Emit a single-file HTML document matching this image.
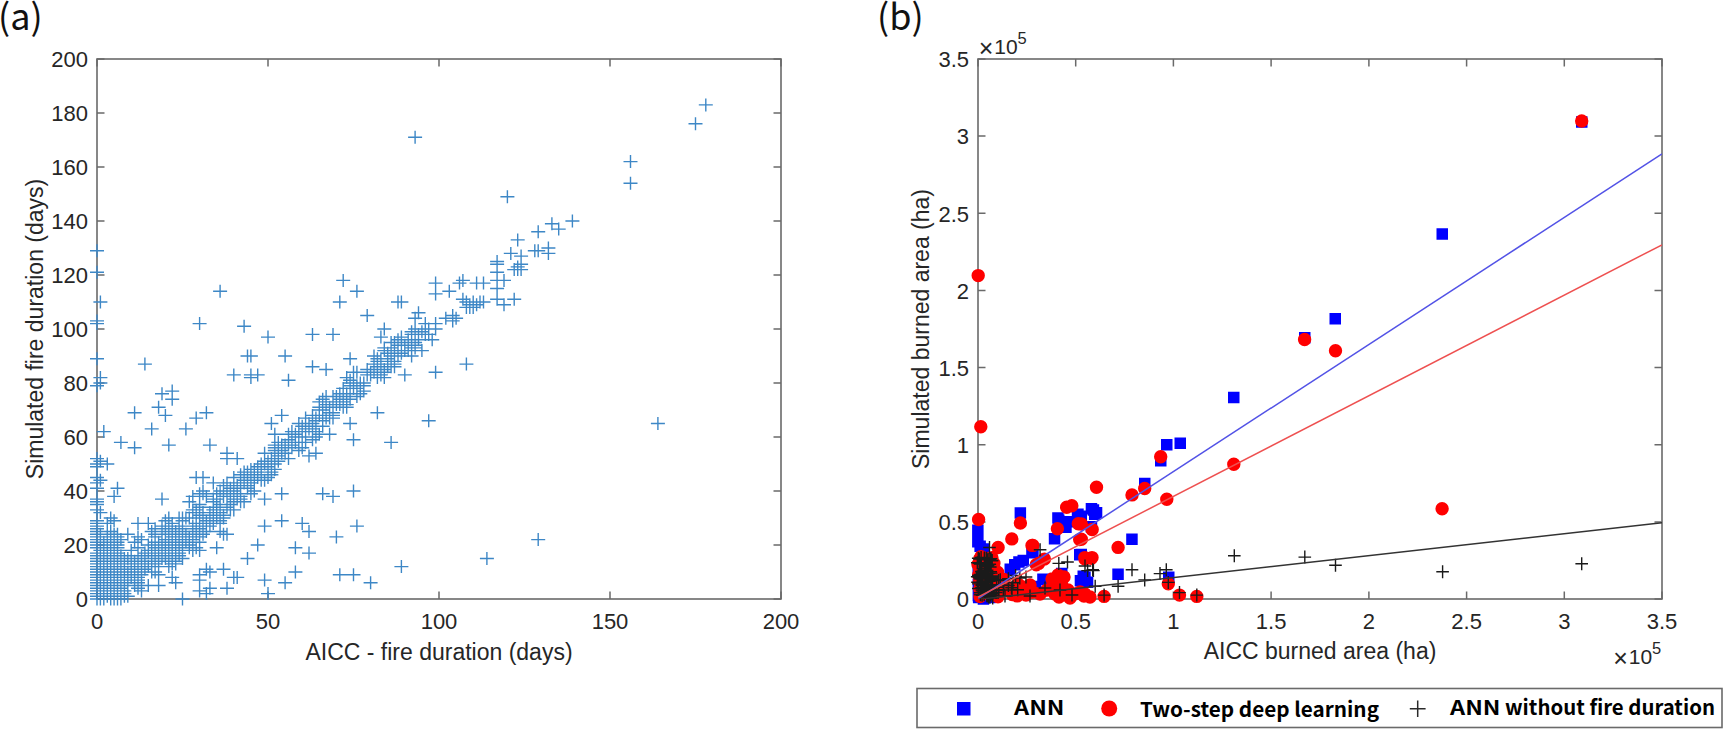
<!DOCTYPE html><html><head><meta charset="utf-8"><style>html,body{margin:0;padding:0;background:#fff}svg{display:block}text{font-family:"Liberation Sans",Arial,sans-serif;fill:#262626}</style></head><body>
<svg width="1725" height="729" viewBox="0 0 1725 729">
<rect width="1725" height="729" fill="#fff"/>
<text x="-2" y="30" style="font-family:'Noto Sans CJK KR','Liberation Sans',sans-serif;font-size:36px;fill:#111">(a)</text>
<text x="877" y="30" style="font-family:'Noto Sans CJK KR','Liberation Sans',sans-serif;font-size:36px;fill:#111">(b)</text>
<path d="M97 599v-7.5M97 59v7.5M268 599v-7.5M268 59v7.5M439 599v-7.5M439 59v7.5M610 599v-7.5M610 59v7.5M781 599v-7.5M781 59v7.5M97 599h7.5M781 599h-7.5M97 545h7.5M781 545h-7.5M97 491h7.5M781 491h-7.5M97 437h7.5M781 437h-7.5M97 383h7.5M781 383h-7.5M97 329h7.5M781 329h-7.5M97 275h7.5M781 275h-7.5M97 221h7.5M781 221h-7.5M97 167h7.5M781 167h-7.5M97 113h7.5M781 113h-7.5M97 59h7.5M781 59h-7.5" stroke="#6a6a6a" stroke-width="1.5" fill="none"/><rect x="97" y="59" width="684" height="540" fill="none" stroke="#6a6a6a" stroke-width="1.6"/>
<path d="M90 599h14M97 592.5v13M90 596.3h14M97 589.8v13M90 593.6h14M97 587.1v13M90 590.9h14M97 584.4v13M90 588.2h14M97 581.7v13M90 585.5h14M97 579v13M90 582.8h14M97 576.3v13M90 580.1h14M97 573.6v13M90 577.4h14M97 570.9v13M90 574.7h14M97 568.2v13M90 572h14M97 565.5v13M90 569.3h14M97 562.8v13M90 566.6h14M97 560.1v13M90 563.9h14M97 557.4v13M90 561.2h14M97 554.7v13M90 558.5h14M97 552v13M90 555.8h14M97 549.3v13M90 553.1h14M97 546.6v13M90 547.7h14M97 541.2v13M90 545h14M97 538.5v13M90 542.3h14M97 535.8v13M90 539.6h14M97 533.1v13M90 536.9h14M97 530.4v13M90 534.2h14M97 527.7v13M90 531.5h14M97 525v13M90 528.8h14M97 522.3v13M90 526.1h14M97 519.6v13M90 523.4h14M97 516.9v13M90 520.7h14M97 514.2v13M90 509.9h14M97 503.4v13M90 504.5h14M97 498v13M90 501.8h14M97 495.3v13M90 499.1h14M97 492.6v13M90 488.3h14M97 481.8v13M90 482.9h14M97 476.4v13M90 477.5h14M97 471v13M90 466.7h14M97 460.2v13M90 464h14M97 457.5v13M90 458.6h14M97 452.1v13M90 385.7h14M97 379.2v13M90 358.7h14M97 352.2v13M90 323.6h14M97 317.1v13M90 320.9h14M97 314.4v13M90 272.3h14M97 265.8v13M90 250.7h14M97 244.2v13M93.4 599h14M100.4 592.5v13M93.4 596.3h14M100.4 589.8v13M93.4 590.9h14M100.4 584.4v13M93.4 588.2h14M100.4 581.7v13M93.4 585.5h14M100.4 579v13M93.4 582.8h14M100.4 576.3v13M93.4 580.1h14M100.4 573.6v13M93.4 577.4h14M100.4 570.9v13M93.4 574.7h14M100.4 568.2v13M93.4 572h14M100.4 565.5v13M93.4 566.6h14M100.4 560.1v13M93.4 563.9h14M100.4 557.4v13M93.4 561.2h14M100.4 554.7v13M93.4 550.4h14M100.4 543.9v13M93.4 547.7h14M100.4 541.2v13M93.4 545h14M100.4 538.5v13M93.4 542.3h14M100.4 535.8v13M93.4 539.6h14M100.4 533.1v13M93.4 534.2h14M100.4 527.7v13M93.4 512.6h14M100.4 506.1v13M93.4 480.2h14M100.4 473.7v13M93.4 461.3h14M100.4 454.8v13M93.4 383h14M100.4 376.5v13M93.4 377.6h14M100.4 371.1v13M93.4 302h14M100.4 295.5v13M96.8 599h14M103.8 592.5v13M96.8 593.6h14M103.8 587.1v13M96.8 590.9h14M103.8 584.4v13M96.8 588.2h14M103.8 581.7v13M96.8 582.8h14M103.8 576.3v13M96.8 580.1h14M103.8 573.6v13M96.8 577.4h14M103.8 570.9v13M96.8 574.7h14M103.8 568.2v13M96.8 572h14M103.8 565.5v13M96.8 569.3h14M103.8 562.8v13M96.8 566.6h14M103.8 560.1v13M96.8 558.5h14M103.8 552v13M96.8 555.8h14M103.8 549.3v13M96.8 553.1h14M103.8 546.6v13M96.8 550.4h14M103.8 543.9v13M96.8 547.7h14M103.8 541.2v13M96.8 542.3h14M103.8 535.8v13M96.8 431.6h14M103.8 425.1v13M100.3 596.3h14M107.3 589.8v13M100.3 593.6h14M107.3 587.1v13M100.3 590.9h14M107.3 584.4v13M100.3 588.2h14M107.3 581.7v13M100.3 585.5h14M107.3 579v13M100.3 582.8h14M107.3 576.3v13M100.3 580.1h14M107.3 573.6v13M100.3 577.4h14M107.3 570.9v13M100.3 574.7h14M107.3 568.2v13M100.3 572h14M107.3 565.5v13M100.3 569.3h14M107.3 562.8v13M100.3 563.9h14M107.3 557.4v13M100.3 561.2h14M107.3 554.7v13M100.3 558.5h14M107.3 552v13M100.3 553.1h14M107.3 546.6v13M100.3 547.7h14M107.3 541.2v13M100.3 542.3h14M107.3 535.8v13M100.3 536.9h14M107.3 530.4v13M100.3 534.2h14M107.3 527.7v13M100.3 523.4h14M107.3 516.9v13M100.3 464h14M107.3 457.5v13M103.7 599h14M110.7 592.5v13M103.7 596.3h14M110.7 589.8v13M103.7 593.6h14M110.7 587.1v13M103.7 590.9h14M110.7 584.4v13M103.7 588.2h14M110.7 581.7v13M103.7 585.5h14M110.7 579v13M103.7 582.8h14M110.7 576.3v13M103.7 580.1h14M110.7 573.6v13M103.7 574.7h14M110.7 568.2v13M103.7 572h14M110.7 565.5v13M103.7 569.3h14M110.7 562.8v13M103.7 566.6h14M110.7 560.1v13M103.7 563.9h14M110.7 557.4v13M103.7 553.1h14M110.7 546.6v13M103.7 545h14M110.7 538.5v13M103.7 542.3h14M110.7 535.8v13M103.7 539.6h14M110.7 533.1v13M103.7 536.9h14M110.7 530.4v13M103.7 534.2h14M110.7 527.7v13M103.7 531.5h14M110.7 525v13M103.7 518h14M110.7 511.5v13M107.1 599h14M114.1 592.5v13M107.1 596.3h14M114.1 589.8v13M107.1 590.9h14M114.1 584.4v13M107.1 585.5h14M114.1 579v13M107.1 582.8h14M114.1 576.3v13M107.1 577.4h14M114.1 570.9v13M107.1 574.7h14M114.1 568.2v13M107.1 572h14M114.1 565.5v13M107.1 569.3h14M114.1 562.8v13M107.1 563.9h14M114.1 557.4v13M107.1 561.2h14M114.1 554.7v13M107.1 555.8h14M114.1 549.3v13M107.1 553.1h14M114.1 546.6v13M107.1 550.4h14M114.1 543.9v13M107.1 547.7h14M114.1 541.2v13M107.1 542.3h14M114.1 535.8v13M107.1 536.9h14M114.1 530.4v13M107.1 534.2h14M114.1 527.7v13M107.1 520.7h14M114.1 514.2v13M107.1 496.4h14M114.1 489.9v13M110.5 599h14M117.5 592.5v13M110.5 596.3h14M117.5 589.8v13M110.5 593.6h14M117.5 587.1v13M110.5 590.9h14M117.5 584.4v13M110.5 588.2h14M117.5 581.7v13M110.5 585.5h14M117.5 579v13M110.5 582.8h14M117.5 576.3v13M110.5 580.1h14M117.5 573.6v13M110.5 577.4h14M117.5 570.9v13M110.5 574.7h14M117.5 568.2v13M110.5 572h14M117.5 565.5v13M110.5 569.3h14M117.5 562.8v13M110.5 566.6h14M117.5 560.1v13M110.5 563.9h14M117.5 557.4v13M110.5 561.2h14M117.5 554.7v13M110.5 553.1h14M117.5 546.6v13M110.5 550.4h14M117.5 543.9v13M110.5 547.7h14M117.5 541.2v13M110.5 545h14M117.5 538.5v13M110.5 542.3h14M117.5 535.8v13M110.5 539.6h14M117.5 533.1v13M110.5 536.9h14M117.5 530.4v13M110.5 534.2h14M117.5 527.7v13M110.5 488.3h14M117.5 481.8v13M113.9 599h14M120.9 592.5v13M113.9 596.3h14M120.9 589.8v13M113.9 593.6h14M120.9 587.1v13M113.9 588.2h14M120.9 581.7v13M113.9 582.8h14M120.9 576.3v13M113.9 580.1h14M120.9 573.6v13M113.9 577.4h14M120.9 570.9v13M113.9 574.7h14M120.9 568.2v13M113.9 572h14M120.9 565.5v13M113.9 569.3h14M120.9 562.8v13M113.9 566.6h14M120.9 560.1v13M113.9 563.9h14M120.9 557.4v13M113.9 558.5h14M120.9 552v13M113.9 555.8h14M120.9 549.3v13M113.9 539.6h14M120.9 533.1v13M113.9 442.4h14M120.9 435.9v13M117.4 596.3h14M124.4 589.8v13M117.4 593.6h14M124.4 587.1v13M117.4 590.9h14M124.4 584.4v13M117.4 582.8h14M124.4 576.3v13M117.4 574.7h14M124.4 568.2v13M117.4 572h14M124.4 565.5v13M117.4 569.3h14M124.4 562.8v13M117.4 566.6h14M124.4 560.1v13M117.4 563.9h14M124.4 557.4v13M117.4 558.5h14M124.4 552v13M120.8 596.3h14M127.8 589.8v13M120.8 585.5h14M127.8 579v13M120.8 577.4h14M127.8 570.9v13M120.8 574.7h14M127.8 568.2v13M120.8 572h14M127.8 565.5v13M120.8 558.5h14M127.8 552v13M120.8 534.2h14M127.8 527.7v13M124.2 577.4h14M131.2 570.9v13M124.2 574.7h14M131.2 568.2v13M124.2 572h14M131.2 565.5v13M124.2 569.3h14M131.2 562.8v13M124.2 566.6h14M131.2 560.1v13M124.2 561.2h14M131.2 554.7v13M124.2 558.5h14M131.2 552v13M124.2 555.8h14M131.2 549.3v13M124.2 550.4h14M131.2 543.9v13M127.6 585.5h14M134.6 579v13M127.6 582.8h14M134.6 576.3v13M127.6 580.1h14M134.6 573.6v13M127.6 577.4h14M134.6 570.9v13M127.6 574.7h14M134.6 568.2v13M127.6 569.3h14M134.6 562.8v13M127.6 566.6h14M134.6 560.1v13M127.6 563.9h14M134.6 557.4v13M127.6 561.2h14M134.6 554.7v13M127.6 542.3h14M134.6 535.8v13M127.6 447.8h14M134.6 441.3v13M127.6 412.7h14M134.6 406.2v13M131 588.2h14M138 581.7v13M131 582.8h14M138 576.3v13M131 580.1h14M138 573.6v13M131 577.4h14M138 570.9v13M131 574.7h14M138 568.2v13M131 572h14M138 565.5v13M131 569.3h14M138 562.8v13M131 566.6h14M138 560.1v13M131 563.9h14M138 557.4v13M131 561.2h14M138 554.7v13M131 558.5h14M138 552v13M131 555.8h14M138 549.3v13M131 547.7h14M138 541.2v13M131 536.9h14M138 530.4v13M131 523.4h14M138 516.9v13M134.5 590.9h14M141.5 584.4v13M134.5 585.5h14M141.5 579v13M134.5 574.7h14M141.5 568.2v13M134.5 572h14M141.5 565.5v13M134.5 566.6h14M141.5 560.1v13M134.5 563.9h14M141.5 557.4v13M134.5 561.2h14M141.5 554.7v13M134.5 558.5h14M141.5 552v13M134.5 555.8h14M141.5 549.3v13M134.5 539.6h14M141.5 533.1v13M137.9 569.3h14M144.9 562.8v13M137.9 566.6h14M144.9 560.1v13M137.9 563.9h14M144.9 557.4v13M137.9 561.2h14M144.9 554.7v13M137.9 558.5h14M144.9 552v13M137.9 555.8h14M144.9 549.3v13M137.9 553.1h14M144.9 546.6v13M137.9 364.1h14M144.9 357.6v13M141.3 585.5h14M148.3 579v13M141.3 566.6h14M148.3 560.1v13M141.3 553.1h14M148.3 546.6v13M141.3 550.4h14M148.3 543.9v13M141.3 545h14M148.3 538.5v13M141.3 523.4h14M148.3 516.9v13M144.7 572h14M151.7 565.5v13M144.7 561.2h14M151.7 554.7v13M144.7 558.5h14M151.7 552v13M144.7 555.8h14M151.7 549.3v13M144.7 553.1h14M151.7 546.6v13M144.7 545h14M151.7 538.5v13M144.7 531.5h14M151.7 525v13M144.7 428.9h14M151.7 422.4v13M148.1 572h14M155.1 565.5v13M148.1 563.9h14M155.1 557.4v13M148.1 555.8h14M155.1 549.3v13M148.1 550.4h14M155.1 543.9v13M148.1 547.7h14M155.1 541.2v13M148.1 545h14M155.1 538.5v13M148.1 542.3h14M155.1 535.8v13M148.1 536.9h14M155.1 530.4v13M148.1 534.2h14M155.1 527.7v13M148.1 528.8h14M155.1 522.3v13M151.6 585.5h14M158.6 579v13M151.6 574.7h14M158.6 568.2v13M151.6 566.6h14M158.6 560.1v13M151.6 561.2h14M158.6 554.7v13M151.6 558.5h14M158.6 552v13M151.6 553.1h14M158.6 546.6v13M151.6 542.3h14M158.6 535.8v13M151.6 407.3h14M158.6 400.8v13M155 558.5h14M162 552v13M155 555.8h14M162 549.3v13M155 553.1h14M162 546.6v13M155 550.4h14M162 543.9v13M155 547.7h14M162 541.2v13M155 545h14M162 538.5v13M155 534.2h14M162 527.7v13M155 526.1h14M162 519.6v13M155 499.1h14M162 492.6v13M155 393.8h14M162 387.3v13M158.4 558.5h14M165.4 552v13M158.4 555.8h14M165.4 549.3v13M158.4 553.1h14M165.4 546.6v13M158.4 550.4h14M165.4 543.9v13M158.4 547.7h14M165.4 541.2v13M158.4 545h14M165.4 538.5v13M158.4 539.6h14M165.4 533.1v13M158.4 531.5h14M165.4 525v13M158.4 520.7h14M165.4 514.2v13M158.4 415.4h14M165.4 408.9v13M161.8 566.6h14M168.8 560.1v13M161.8 561.2h14M168.8 554.7v13M161.8 555.8h14M168.8 549.3v13M161.8 553.1h14M168.8 546.6v13M161.8 550.4h14M168.8 543.9v13M161.8 542.3h14M168.8 535.8v13M161.8 539.6h14M168.8 533.1v13M161.8 528.8h14M168.8 522.3v13M161.8 526.1h14M168.8 519.6v13M161.8 518h14M168.8 511.5v13M161.8 445.1h14M168.8 438.6v13M165.2 577.4h14M172.2 570.9v13M165.2 563.9h14M172.2 557.4v13M165.2 558.5h14M172.2 552v13M165.2 553.1h14M172.2 546.6v13M165.2 550.4h14M172.2 543.9v13M165.2 542.3h14M172.2 535.8v13M165.2 539.6h14M172.2 533.1v13M165.2 536.9h14M172.2 530.4v13M165.2 534.2h14M172.2 527.7v13M165.2 531.5h14M172.2 525v13M165.2 528.8h14M172.2 522.3v13M165.2 526.1h14M172.2 519.6v13M165.2 523.4h14M172.2 516.9v13M165.2 399.2h14M172.2 392.7v13M165.2 391.1h14M172.2 384.6v13M168.7 582.8h14M175.7 576.3v13M168.7 563.9h14M175.7 557.4v13M168.7 561.2h14M175.7 554.7v13M168.7 555.8h14M175.7 549.3v13M168.7 547.7h14M175.7 541.2v13M168.7 545h14M175.7 538.5v13M168.7 539.6h14M175.7 533.1v13M168.7 534.2h14M175.7 527.7v13M168.7 531.5h14M175.7 525v13M172.1 555.8h14M179.1 549.3v13M172.1 553.1h14M179.1 546.6v13M172.1 550.4h14M179.1 543.9v13M172.1 545h14M179.1 538.5v13M172.1 542.3h14M179.1 535.8v13M172.1 539.6h14M179.1 533.1v13M172.1 528.8h14M179.1 522.3v13M172.1 526.1h14M179.1 519.6v13M172.1 518h14M179.1 511.5v13M175.5 599h14M182.5 592.5v13M175.5 558.5h14M182.5 552v13M175.5 547.7h14M182.5 541.2v13M175.5 545h14M182.5 538.5v13M175.5 542.3h14M182.5 535.8v13M175.5 539.6h14M182.5 533.1v13M175.5 536.9h14M182.5 530.4v13M175.5 534.2h14M182.5 527.7v13M175.5 531.5h14M182.5 525v13M175.5 528.8h14M182.5 522.3v13M175.5 526.1h14M182.5 519.6v13M175.5 520.7h14M182.5 514.2v13M175.5 518h14M182.5 511.5v13M178.9 542.3h14M185.9 535.8v13M178.9 534.2h14M185.9 527.7v13M178.9 518h14M185.9 511.5v13M178.9 428.9h14M185.9 422.4v13M182.3 547.7h14M189.3 541.2v13M182.3 545h14M189.3 538.5v13M182.3 542.3h14M189.3 535.8v13M182.3 539.6h14M189.3 533.1v13M182.3 536.9h14M189.3 530.4v13M182.3 518h14M189.3 511.5v13M182.3 501.8h14M189.3 495.3v13M185.8 550.4h14M192.8 543.9v13M185.8 547.7h14M192.8 541.2v13M185.8 539.6h14M192.8 533.1v13M185.8 536.9h14M192.8 530.4v13M185.8 531.5h14M192.8 525v13M185.8 528.8h14M192.8 522.3v13M185.8 526.1h14M192.8 519.6v13M185.8 512.6h14M192.8 506.1v13M185.8 509.9h14M192.8 503.4v13M185.8 496.4h14M192.8 489.9v13M189.2 547.7h14M196.2 541.2v13M189.2 534.2h14M196.2 527.7v13M189.2 531.5h14M196.2 525v13M189.2 528.8h14M196.2 522.3v13M189.2 526.1h14M196.2 519.6v13M189.2 523.4h14M196.2 516.9v13M189.2 518h14M196.2 511.5v13M189.2 509.9h14M196.2 503.4v13M189.2 477.5h14M196.2 471v13M189.2 418.1h14M196.2 411.6v13M192.6 590.9h14M199.6 584.4v13M192.6 580.1h14M199.6 573.6v13M192.6 574.7h14M199.6 568.2v13M192.6 550.4h14M199.6 543.9v13M192.6 542.3h14M199.6 535.8v13M192.6 536.9h14M199.6 530.4v13M192.6 534.2h14M199.6 527.7v13M192.6 528.8h14M199.6 522.3v13M192.6 523.4h14M199.6 516.9v13M192.6 515.3h14M199.6 508.8v13M192.6 507.2h14M199.6 500.7v13M192.6 504.5h14M199.6 498v13M192.6 493.7h14M199.6 487.2v13M192.6 323.6h14M199.6 317.1v13M196 534.2h14M203 527.7v13M196 526.1h14M203 519.6v13M196 515.3h14M203 508.8v13M196 512.6h14M203 506.1v13M196 493.7h14M203 487.2v13M196 491h14M203 484.5v13M196 477.5h14M203 471v13M199.4 593.6h14M206.4 587.1v13M199.4 569.3h14M206.4 562.8v13M199.4 531.5h14M206.4 525v13M199.4 526.1h14M206.4 519.6v13M199.4 523.4h14M206.4 516.9v13M199.4 520.7h14M206.4 514.2v13M199.4 496.4h14M206.4 489.9v13M199.4 412.7h14M206.4 406.2v13M202.9 588.2h14M209.9 581.7v13M202.9 572h14M209.9 565.5v13M202.9 526.1h14M209.9 519.6v13M202.9 520.7h14M209.9 514.2v13M202.9 518h14M209.9 511.5v13M202.9 515.3h14M209.9 508.8v13M202.9 512.6h14M209.9 506.1v13M202.9 445.1h14M209.9 438.6v13M206.3 523.4h14M213.3 516.9v13M206.3 515.3h14M213.3 508.8v13M206.3 512.6h14M213.3 506.1v13M206.3 509.9h14M213.3 503.4v13M206.3 507.2h14M213.3 500.7v13M206.3 501.8h14M213.3 495.3v13M206.3 499.1h14M213.3 492.6v13M206.3 482.9h14M213.3 476.4v13M209.7 547.7h14M216.7 541.2v13M209.7 518h14M216.7 511.5v13M209.7 515.3h14M216.7 508.8v13M209.7 509.9h14M216.7 503.4v13M209.7 507.2h14M216.7 500.7v13M209.7 499.1h14M216.7 492.6v13M209.7 493.7h14M216.7 487.2v13M213.1 531.5h14M220.1 525v13M213.1 523.4h14M220.1 516.9v13M213.1 520.7h14M220.1 514.2v13M213.1 512.6h14M220.1 506.1v13M213.1 507.2h14M220.1 500.7v13M213.1 504.5h14M220.1 498v13M213.1 491h14M220.1 484.5v13M213.1 291.2h14M220.1 284.7v13M216.5 569.3h14M223.5 562.8v13M216.5 534.2h14M223.5 527.7v13M216.5 518h14M223.5 511.5v13M216.5 515.3h14M223.5 508.8v13M216.5 496.4h14M223.5 489.9v13M216.5 491h14M223.5 484.5v13M216.5 485.6h14M223.5 479.1v13M220 588.2h14M227 581.7v13M220 534.2h14M227 527.7v13M220 507.2h14M227 500.7v13M220 504.5h14M227 498v13M220 496.4h14M227 489.9v13M220 493.7h14M227 487.2v13M220 482.9h14M227 476.4v13M220 458.6h14M227 452.1v13M220 453.2h14M227 446.7v13M223.4 509.9h14M230.4 503.4v13M223.4 504.5h14M230.4 498v13M223.4 493.7h14M230.4 487.2v13M223.4 491h14M230.4 484.5v13M223.4 488.3h14M230.4 481.8v13M226.8 577.4h14M233.8 570.9v13M226.8 509.9h14M233.8 503.4v13M226.8 501.8h14M233.8 495.3v13M226.8 499.1h14M233.8 492.6v13M226.8 491h14M233.8 484.5v13M226.8 488.3h14M233.8 481.8v13M226.8 477.5h14M233.8 471v13M226.8 374.9h14M233.8 368.4v13M230.2 577.4h14M237.2 570.9v13M230.2 499.1h14M237.2 492.6v13M230.2 493.7h14M237.2 487.2v13M230.2 488.3h14M237.2 481.8v13M230.2 485.6h14M237.2 479.1v13M230.2 458.6h14M237.2 452.1v13M233.6 501.8h14M240.6 495.3v13M233.6 499.1h14M240.6 492.6v13M233.6 496.4h14M240.6 489.9v13M233.6 488.3h14M240.6 481.8v13M233.6 485.6h14M240.6 479.1v13M233.6 482.9h14M240.6 476.4v13M233.6 477.5h14M240.6 471v13M233.6 474.8h14M240.6 468.3v13M237.1 501.8h14M244.1 495.3v13M237.1 482.9h14M244.1 476.4v13M237.1 480.2h14M244.1 473.7v13M237.1 472.1h14M244.1 465.6v13M237.1 326.3h14M244.1 319.8v13M240.5 558.5h14M247.5 552v13M240.5 488.3h14M247.5 481.8v13M240.5 485.6h14M247.5 479.1v13M240.5 482.9h14M247.5 476.4v13M240.5 480.2h14M247.5 473.7v13M240.5 477.5h14M247.5 471v13M240.5 472.1h14M247.5 465.6v13M240.5 356h14M247.5 349.5v13M243.9 493.7h14M250.9 487.2v13M243.9 482.9h14M250.9 476.4v13M243.9 480.2h14M250.9 473.7v13M243.9 477.5h14M250.9 471v13M243.9 474.8h14M250.9 468.3v13M243.9 469.4h14M250.9 462.9v13M243.9 377.6h14M250.9 371.1v13M243.9 374.9h14M250.9 368.4v13M243.9 356h14M250.9 349.5v13M247.3 491h14M254.3 484.5v13M247.3 480.2h14M254.3 473.7v13M247.3 477.5h14M254.3 471v13M247.3 474.8h14M254.3 468.3v13M247.3 469.4h14M254.3 462.9v13M250.7 545h14M257.7 538.5v13M250.7 477.5h14M257.7 471v13M250.7 472.1h14M257.7 465.6v13M250.7 469.4h14M257.7 462.9v13M250.7 466.7h14M257.7 460.2v13M250.7 374.9h14M257.7 368.4v13M254.2 480.2h14M261.2 473.7v13M254.2 477.5h14M261.2 471v13M254.2 474.8h14M261.2 468.3v13M254.2 466.7h14M261.2 460.2v13M254.2 464h14M261.2 457.5v13M257.6 580.1h14M264.6 573.6v13M257.6 526.1h14M264.6 519.6v13M257.6 499.1h14M264.6 492.6v13M257.6 480.2h14M264.6 473.7v13M257.6 464h14M264.6 457.5v13M257.6 461.3h14M264.6 454.8v13M257.6 453.2h14M264.6 446.7v13M261 593.6h14M268 587.1v13M261 477.5h14M268 471v13M261 472.1h14M268 465.6v13M261 469.4h14M268 462.9v13M261 466.7h14M268 460.2v13M261 461.3h14M268 454.8v13M261 337.1h14M268 330.6v13M264.4 474.8h14M271.4 468.3v13M264.4 472.1h14M271.4 465.6v13M264.4 464h14M271.4 457.5v13M264.4 461.3h14M271.4 454.8v13M264.4 458.6h14M271.4 452.1v13M264.4 423.5h14M271.4 417v13M267.8 469.4h14M274.8 462.9v13M267.8 464h14M274.8 457.5v13M267.8 458.6h14M274.8 452.1v13M267.8 453.2h14M274.8 446.7v13M267.8 450.5h14M274.8 444v13M267.8 447.8h14M274.8 441.3v13M267.8 445.1h14M274.8 438.6v13M267.8 434.3h14M274.8 427.8v13M271.3 461.3h14M278.3 454.8v13M271.3 455.9h14M278.3 449.4v13M271.3 453.2h14M278.3 446.7v13M271.3 442.4h14M278.3 435.9v13M274.7 520.7h14M281.7 514.2v13M274.7 493.7h14M281.7 487.2v13M274.7 453.2h14M281.7 446.7v13M274.7 450.5h14M281.7 444v13M274.7 447.8h14M281.7 441.3v13M274.7 445.1h14M281.7 438.6v13M274.7 415.4h14M281.7 408.9v13M278.1 582.8h14M285.1 576.3v13M278.1 453.2h14M285.1 446.7v13M278.1 445.1h14M285.1 438.6v13M278.1 356h14M285.1 349.5v13M281.5 458.6h14M288.5 452.1v13M281.5 445.1h14M288.5 438.6v13M281.5 442.4h14M288.5 435.9v13M281.5 439.7h14M288.5 433.2v13M281.5 434.3h14M288.5 427.8v13M281.5 380.3h14M288.5 373.8v13M284.9 447.8h14M291.9 441.3v13M284.9 445.1h14M291.9 438.6v13M284.9 442.4h14M291.9 435.9v13M284.9 434.3h14M291.9 427.8v13M284.9 431.6h14M291.9 425.1v13M288.4 572h14M295.4 565.5v13M288.4 547.7h14M295.4 541.2v13M288.4 442.4h14M295.4 435.9v13M288.4 437h14M295.4 430.5v13M288.4 434.3h14M295.4 427.8v13M291.8 450.5h14M298.8 444v13M291.8 442.4h14M298.8 435.9v13M291.8 437h14M298.8 430.5v13M291.8 431.6h14M298.8 425.1v13M291.8 423.5h14M298.8 417v13M295.2 523.4h14M302.2 516.9v13M295.2 447.8h14M302.2 441.3v13M295.2 437h14M302.2 430.5v13M295.2 431.6h14M302.2 425.1v13M295.2 426.2h14M302.2 419.7v13M298.6 442.4h14M305.6 435.9v13M298.6 431.6h14M305.6 425.1v13M298.6 428.9h14M305.6 422.4v13M298.6 418.1h14M305.6 411.6v13M302 553.1h14M309 546.6v13M302 531.5h14M309 525v13M302 455.9h14M309 449.4v13M302 428.9h14M309 422.4v13M302 423.5h14M309 417v13M305.5 439.7h14M312.5 433.2v13M305.5 428.9h14M312.5 422.4v13M305.5 426.2h14M312.5 419.7v13M305.5 423.5h14M312.5 417v13M305.5 415.4h14M312.5 408.9v13M305.5 366.8h14M312.5 360.3v13M305.5 334.4h14M312.5 327.9v13M308.9 453.2h14M315.9 446.7v13M308.9 437h14M315.9 430.5v13M308.9 431.6h14M315.9 425.1v13M308.9 420.8h14M315.9 414.3v13M308.9 418.1h14M315.9 411.6v13M312.3 434.3h14M319.3 427.8v13M312.3 415.4h14M319.3 408.9v13M312.3 410h14M319.3 403.5v13M312.3 407.3h14M319.3 400.8v13M312.3 401.9h14M319.3 395.4v13M315.7 493.7h14M322.7 487.2v13M315.7 426.2h14M322.7 419.7v13M315.7 420.8h14M322.7 414.3v13M315.7 410h14M322.7 403.5v13M315.7 399.2h14M322.7 392.7v13M319.1 418.1h14M326.1 411.6v13M319.1 404.6h14M326.1 398.1v13M319.1 396.5h14M326.1 390v13M319.1 369.5h14M326.1 363v13M322.6 434.3h14M329.6 427.8v13M322.6 418.1h14M329.6 411.6v13M322.6 412.7h14M329.6 406.2v13M322.6 407.3h14M329.6 400.8v13M326 496.4h14M333 489.9v13M326 418.1h14M333 411.6v13M326 415.4h14M333 408.9v13M326 412.7h14M333 406.2v13M326 401.9h14M333 395.4v13M326 396.5h14M333 390v13M326 334.4h14M333 327.9v13M329.4 536.9h14M336.4 530.4v13M329.4 404.6h14M336.4 398.1v13M329.4 396.5h14M336.4 390v13M332.8 574.7h14M339.8 568.2v13M332.8 404.6h14M339.8 398.1v13M332.8 399.2h14M339.8 392.7v13M332.8 393.8h14M339.8 387.3v13M332.8 302h14M339.8 295.5v13M336.2 407.3h14M343.2 400.8v13M336.2 404.6h14M343.2 398.1v13M336.2 401.9h14M343.2 395.4v13M336.2 396.5h14M343.2 390v13M336.2 388.4h14M343.2 381.9v13M336.2 280.4h14M343.2 273.9v13M339.7 407.3h14M346.7 400.8v13M339.7 404.6h14M346.7 398.1v13M339.7 399.2h14M346.7 392.7v13M339.7 396.5h14M346.7 390v13M339.7 393.8h14M346.7 387.3v13M339.7 377.6h14M346.7 371.1v13M343.1 423.5h14M350.1 417v13M343.1 399.2h14M350.1 392.7v13M343.1 396.5h14M350.1 390v13M343.1 385.7h14M350.1 379.2v13M343.1 383h14M350.1 376.5v13M343.1 380.3h14M350.1 373.8v13M343.1 358.7h14M350.1 352.2v13M346.5 574.7h14M353.5 568.2v13M346.5 491h14M353.5 484.5v13M346.5 439.7h14M353.5 433.2v13M346.5 388.4h14M353.5 381.9v13M346.5 383h14M353.5 376.5v13M346.5 372.2h14M353.5 365.7v13M349.9 526.1h14M356.9 519.6v13M349.9 396.5h14M356.9 390v13M349.9 388.4h14M356.9 381.9v13M349.9 385.7h14M356.9 379.2v13M349.9 372.2h14M356.9 365.7v13M349.9 291.2h14M356.9 284.7v13M353.3 393.8h14M360.3 387.3v13M353.3 383h14M360.3 376.5v13M356.8 391.1h14M363.8 384.6v13M356.8 385.7h14M363.8 379.2v13M356.8 383h14M363.8 376.5v13M360.2 374.9h14M367.2 368.4v13M360.2 369.5h14M367.2 363v13M360.2 315.5h14M367.2 309v13M363.6 582.8h14M370.6 576.3v13M363.6 374.9h14M370.6 368.4v13M363.6 372.2h14M370.6 365.7v13M367 372.2h14M374 365.7v13M367 364.1h14M374 357.6v13M367 356h14M374 349.5v13M370.4 412.7h14M377.4 406.2v13M370.4 377.6h14M377.4 371.1v13M370.4 374.9h14M377.4 368.4v13M370.4 372.2h14M377.4 365.7v13M370.4 366.8h14M377.4 360.3v13M370.4 364.1h14M377.4 357.6v13M370.4 361.4h14M377.4 354.9v13M370.4 358.7h14M377.4 352.2v13M373.9 374.9h14M380.9 368.4v13M373.9 369.5h14M380.9 363v13M373.9 358.7h14M380.9 352.2v13M373.9 337.1h14M380.9 330.6v13M377.3 377.6h14M384.3 371.1v13M377.3 372.2h14M384.3 365.7v13M377.3 369.5h14M384.3 363v13M377.3 350.6h14M384.3 344.1v13M377.3 347.9h14M384.3 341.4v13M377.3 329h14M384.3 322.5v13M380.7 366.8h14M387.7 360.3v13M380.7 364.1h14M387.7 357.6v13M380.7 361.4h14M387.7 354.9v13M380.7 358.7h14M387.7 352.2v13M380.7 353.3h14M387.7 346.8v13M384.1 442.4h14M391.1 435.9v13M384.1 366.8h14M391.1 360.3v13M384.1 364.1h14M391.1 357.6v13M384.1 361.4h14M391.1 354.9v13M384.1 356h14M391.1 349.5v13M384.1 350.6h14M391.1 344.1v13M384.1 347.9h14M391.1 341.4v13M384.1 342.5h14M391.1 336v13M387.5 366.8h14M394.5 360.3v13M387.5 364.1h14M394.5 357.6v13M387.5 361.4h14M394.5 354.9v13M387.5 353.3h14M394.5 346.8v13M387.5 350.6h14M394.5 344.1v13M387.5 342.5h14M394.5 336v13M391 356h14M398 349.5v13M391 353.3h14M398 346.8v13M391 345.2h14M398 338.7v13M391 339.8h14M398 333.3v13M391 302h14M398 295.5v13M394.4 566.6h14M401.4 560.1v13M394.4 353.3h14M401.4 346.8v13M394.4 342.5h14M401.4 336v13M394.4 337.1h14M401.4 330.6v13M394.4 302h14M401.4 295.5v13M397.8 374.9h14M404.8 368.4v13M397.8 350.6h14M404.8 344.1v13M397.8 345.2h14M404.8 338.7v13M401.2 350.6h14M408.2 344.1v13M401.2 339.8h14M408.2 333.3v13M404.6 356h14M411.6 349.5v13M404.6 347.9h14M411.6 341.4v13M404.6 345.2h14M411.6 338.7v13M404.6 342.5h14M411.6 336v13M404.6 334.4h14M411.6 327.9v13M404.6 331.7h14M411.6 325.2v13M408.1 347.9h14M415.1 341.4v13M408.1 345.2h14M415.1 338.7v13M408.1 342.5h14M415.1 336v13M408.1 334.4h14M415.1 327.9v13M408.1 329h14M415.1 322.5v13M408.1 318.2h14M415.1 311.7v13M408.1 137.3h14M415.1 130.8v13M411.5 339.8h14M418.5 333.3v13M411.5 334.4h14M418.5 327.9v13M411.5 312.8h14M418.5 306.3v13M414.9 350.6h14M421.9 344.1v13M414.9 331.7h14M421.9 325.2v13M418.3 334.4h14M425.3 327.9v13M418.3 323.6h14M425.3 317.1v13M421.7 420.8h14M428.7 414.3v13M421.7 334.4h14M428.7 327.9v13M421.7 329h14M428.7 322.5v13M425.2 339.8h14M432.2 333.3v13M428.6 372.2h14M435.6 365.7v13M428.6 329h14M435.6 322.5v13M428.6 323.6h14M435.6 317.1v13M428.6 293.9h14M435.6 287.4v13M428.6 283.1h14M435.6 276.6v13M438.8 318.2h14M445.8 311.7v13M442.3 291.2h14M449.3 284.7v13M445.7 320.9h14M452.7 314.4v13M445.7 315.5h14M452.7 309v13M449.1 318.2h14M456.1 311.7v13M452.5 283.1h14M459.5 276.6v13M455.9 299.3h14M462.9 292.8v13M455.9 280.4h14M462.9 273.9v13M459.4 364.1h14M466.4 357.6v13M459.4 307.4h14M466.4 300.9v13M459.4 302h14M466.4 295.5v13M462.8 307.4h14M469.8 300.9v13M462.8 304.7h14M469.8 298.2v13M466.2 307.4h14M473.2 300.9v13M466.2 302h14M473.2 295.5v13M469.6 304.7h14M476.6 298.2v13M469.6 283.1h14M476.6 276.6v13M473 302h14M480 295.5v13M476.5 302h14M483.5 295.5v13M476.5 283.1h14M483.5 276.6v13M479.9 558.5h14M486.9 552v13M490.1 299.3h14M497.1 292.8v13M490.1 288.5h14M497.1 282v13M490.1 280.4h14M497.1 273.9v13M490.1 272.3h14M497.1 265.8v13M490.1 264.2h14M497.1 257.7v13M490.1 261.5h14M497.1 255v13M497 304.7h14M504 298.2v13M497 280.4h14M504 273.9v13M500.4 196.7h14M507.4 190.2v13M503.8 253.4h14M510.8 246.9v13M507.2 299.3h14M514.2 292.8v13M507.2 269.6h14M514.2 263.1v13M510.7 269.6h14M517.7 263.1v13M510.7 266.9h14M517.7 260.4v13M510.7 239.9h14M517.7 233.4v13M514.1 269.6h14M521.1 263.1v13M514.1 264.2h14M521.1 257.7v13M514.1 256.1h14M521.1 249.6v13M527.8 250.7h14M534.8 244.2v13M531.2 539.6h14M538.2 533.1v13M531.2 250.7h14M538.2 244.2v13M531.2 231.8h14M538.2 225.3v13M541.4 253.4h14M548.4 246.9v13M541.4 248h14M548.4 241.5v13M544.9 223.7h14M551.9 217.2v13M551.7 229.1h14M558.7 222.6v13M565.4 221h14M572.4 214.5v13M623.5 183.2h14M630.5 176.7v13M623.5 161.6h14M630.5 155.1v13M650.9 423.5h14M657.9 417v13M688.5 123.8h14M695.5 117.3v13M698.8 104.9h14M705.8 98.4v13" stroke="#3d87c6" stroke-width="1.4" fill="none"/>
<text x="88" y="607.2" text-anchor="end" font-size="22">0</text>
<text x="88" y="553.2" text-anchor="end" font-size="22">20</text>
<text x="88" y="499.2" text-anchor="end" font-size="22">40</text>
<text x="88" y="445.2" text-anchor="end" font-size="22">60</text>
<text x="88" y="391.2" text-anchor="end" font-size="22">80</text>
<text x="88" y="337.2" text-anchor="end" font-size="22">100</text>
<text x="88" y="283.2" text-anchor="end" font-size="22">120</text>
<text x="88" y="229.2" text-anchor="end" font-size="22">140</text>
<text x="88" y="175.2" text-anchor="end" font-size="22">160</text>
<text x="88" y="121.2" text-anchor="end" font-size="22">180</text>
<text x="88" y="67.2" text-anchor="end" font-size="22">200</text>
<text x="97" y="629" text-anchor="middle" font-size="22">0</text>
<text x="268" y="629" text-anchor="middle" font-size="22">50</text>
<text x="439" y="629" text-anchor="middle" font-size="22">100</text>
<text x="610" y="629" text-anchor="middle" font-size="22">150</text>
<text x="781" y="629" text-anchor="middle" font-size="22">200</text>
<text x="439" y="660" text-anchor="middle" font-size="23">AICC - fire duration (days)</text>
<text transform="translate(42.5 329) rotate(-90)" text-anchor="middle" font-size="23">Simulated fire duration (days)</text>
<path d="M978 599v-7.5M978 59v7.5M1075.7 599v-7.5M1075.7 59v7.5M1173.4 599v-7.5M1173.4 59v7.5M1271.1 599v-7.5M1271.1 59v7.5M1368.9 599v-7.5M1368.9 59v7.5M1466.6 599v-7.5M1466.6 59v7.5M1564.3 599v-7.5M1564.3 59v7.5M1662 599v-7.5M1662 59v7.5M978 599h7.5M1662 599h-7.5M978 521.9h7.5M1662 521.9h-7.5M978 444.7h7.5M1662 444.7h-7.5M978 367.6h7.5M1662 367.6h-7.5M978 290.4h7.5M1662 290.4h-7.5M978 213.3h7.5M1662 213.3h-7.5M978 136.1h7.5M1662 136.1h-7.5M978 59h7.5M1662 59h-7.5" stroke="#6a6a6a" stroke-width="1.5" fill="none"/><rect x="978" y="59" width="684" height="540" fill="none" stroke="#6a6a6a" stroke-width="1.6"/>
<defs><clipPath id="cb"><rect x="970" y="59" width="692" height="548"/></clipPath></defs>
<g clip-path="url(#cb)">
<path d="M1576 116.2h11.5v11.5h-11.5zM1436.5 228.2h11.5v11.5h-11.5zM1329.5 312.9h11.5v11.5h-11.5zM1299 331.9h11.5v11.5h-11.5zM1228 391.8h11.5v11.5h-11.5zM1161 439.1h11.5v11.5h-11.5zM1174.5 437.6h11.5v11.5h-11.5zM1155 454.9h11.5v11.5h-11.5zM1139 477.8h11.5v11.5h-11.5zM1085.7 503.1h11.5v11.5h-11.5zM1090.8 506.9h11.5v11.5h-11.5zM1075.5 510.6h11.5v11.5h-11.5zM1085.7 520.9h11.5v11.5h-11.5zM1126.2 533.5h11.5v11.5h-11.5zM1112.3 568.5h11.5v11.5h-11.5zM1163 571.6h11.5v11.5h-11.5zM1079.2 571.6h11.5v11.5h-11.5zM1081.8 576.6h11.5v11.5h-11.5zM1075.5 548.8h11.5v11.5h-11.5zM1014.6 507.2h11.5v11.5h-11.5zM1052.2 512.2h11.5v11.5h-11.5zM1072.2 508.6h11.5v11.5h-11.5zM1053 514.5h11.5v11.5h-11.5zM1061.8 515.9h11.5v11.5h-11.5zM1071.8 510.1h11.5v11.5h-11.5zM1060.2 521.6h11.5v11.5h-11.5zM1087.7 504.2h11.5v11.5h-11.5zM1089 508.6h11.5v11.5h-11.5zM1048.8 533.1h11.5v11.5h-11.5zM1027.2 546.1h11.5v11.5h-11.5zM1074 549h11.5v11.5h-11.5zM1077.5 570.6h11.5v11.5h-11.5zM1074.7 575h11.5v11.5h-11.5zM1037.2 573.5h11.5v11.5h-11.5zM1056 567.8h11.5v11.5h-11.5zM1030 580.8h11.5v11.5h-11.5zM972.1 524.5h11.5v11.5h-11.5zM972.1 530.2h11.5v11.5h-11.5zM972.1 536h11.5v11.5h-11.5zM974.4 540.4h11.5v11.5h-11.5zM978 543.2h11.5v11.5h-11.5zM1026.2 546.9h11.5v11.5h-11.5zM1004.5 563.5h11.5v11.5h-11.5zM1009 559h11.5v11.5h-11.5zM1013.2 556.2h11.5v11.5h-11.5zM1017.5 554.8h11.5v11.5h-11.5zM975.6 591.3h11.5v11.5h-11.5zM987.2 577.8h11.5v11.5h-11.5zM979.4 558.3h11.5v11.5h-11.5zM972.9 591.8h11.5v11.5h-11.5zM976.3 581.7h11.5v11.5h-11.5zM976.6 586.4h11.5v11.5h-11.5zM982.4 565.7h11.5v11.5h-11.5zM975.2 582.3h11.5v11.5h-11.5zM973.4 563.2h11.5v11.5h-11.5zM981.8 587.5h11.5v11.5h-11.5zM982.7 565.2h11.5v11.5h-11.5zM987.8 562.2h11.5v11.5h-11.5zM972.5 564.7h11.5v11.5h-11.5zM979.8 556.6h11.5v11.5h-11.5zM975.2 568.6h11.5v11.5h-11.5zM982 559.4h11.5v11.5h-11.5zM978.4 589h11.5v11.5h-11.5zM988.9 579.9h11.5v11.5h-11.5zM984 577h11.5v11.5h-11.5zM974.6 555.6h11.5v11.5h-11.5zM972.6 589.7h11.5v11.5h-11.5zM984.2 591.8h11.5v11.5h-11.5zM972.6 579.1h11.5v11.5h-11.5zM980.4 582.7h11.5v11.5h-11.5zM977.7 593.2h11.5v11.5h-11.5zM973.5 575.5h11.5v11.5h-11.5zM984.8 589.4h11.5v11.5h-11.5zM984.8 581.7h11.5v11.5h-11.5zM985.7 589.9h11.5v11.5h-11.5zM978.2 581h11.5v11.5h-11.5z" fill="#0000ff"/>
<path d="M1575 121a6.7 6.7 0 1 0 13.4 0a6.7 6.7 0 1 0 -13.4 0zM971.5 275.6a6.7 6.7 0 1 0 13.4 0a6.7 6.7 0 1 0 -13.4 0zM974.1 426.8a6.7 6.7 0 1 0 13.4 0a6.7 6.7 0 1 0 -13.4 0zM1435.4 508.8a6.7 6.7 0 1 0 13.4 0a6.7 6.7 0 1 0 -13.4 0zM1297.9 339.5a6.7 6.7 0 1 0 13.4 0a6.7 6.7 0 1 0 -13.4 0zM1328.8 350.8a6.7 6.7 0 1 0 13.4 0a6.7 6.7 0 1 0 -13.4 0zM1227.1 464.3a6.7 6.7 0 1 0 13.4 0a6.7 6.7 0 1 0 -13.4 0zM1154 456.8a6.7 6.7 0 1 0 13.4 0a6.7 6.7 0 1 0 -13.4 0zM1089.8 487.3a6.7 6.7 0 1 0 13.4 0a6.7 6.7 0 1 0 -13.4 0zM1125.3 494.9a6.7 6.7 0 1 0 13.4 0a6.7 6.7 0 1 0 -13.4 0zM1138 488.5a6.7 6.7 0 1 0 13.4 0a6.7 6.7 0 1 0 -13.4 0zM1160.1 499.2a6.7 6.7 0 1 0 13.4 0a6.7 6.7 0 1 0 -13.4 0zM1085.5 529.6a6.7 6.7 0 1 0 13.4 0a6.7 6.7 0 1 0 -13.4 0zM1074.6 524a6.7 6.7 0 1 0 13.4 0a6.7 6.7 0 1 0 -13.4 0zM1074.6 539.3a6.7 6.7 0 1 0 13.4 0a6.7 6.7 0 1 0 -13.4 0zM1111.4 547.4a6.7 6.7 0 1 0 13.4 0a6.7 6.7 0 1 0 -13.4 0zM1078.3 559.1a6.7 6.7 0 1 0 13.4 0a6.7 6.7 0 1 0 -13.4 0zM1084.7 558.3a6.7 6.7 0 1 0 13.4 0a6.7 6.7 0 1 0 -13.4 0zM1161.6 583.7a6.7 6.7 0 1 0 13.4 0a6.7 6.7 0 1 0 -13.4 0zM1172.8 595.1a6.7 6.7 0 1 0 13.4 0a6.7 6.7 0 1 0 -13.4 0zM1190.1 596.4a6.7 6.7 0 1 0 13.4 0a6.7 6.7 0 1 0 -13.4 0zM1097.4 596.4a6.7 6.7 0 1 0 13.4 0a6.7 6.7 0 1 0 -13.4 0zM1078.3 593.9a6.7 6.7 0 1 0 13.4 0a6.7 6.7 0 1 0 -13.4 0zM971.9 519.5a6.7 6.7 0 1 0 13.4 0a6.7 6.7 0 1 0 -13.4 0zM991.4 547.5a6.7 6.7 0 1 0 13.4 0a6.7 6.7 0 1 0 -13.4 0zM1005.1 538.9a6.7 6.7 0 1 0 13.4 0a6.7 6.7 0 1 0 -13.4 0zM1013.7 523a6.7 6.7 0 1 0 13.4 0a6.7 6.7 0 1 0 -13.4 0zM1025.3 545.4a6.7 6.7 0 1 0 13.4 0a6.7 6.7 0 1 0 -13.4 0zM1029.6 564.8a6.7 6.7 0 1 0 13.4 0a6.7 6.7 0 1 0 -13.4 0zM1060 507.2a6.7 6.7 0 1 0 13.4 0a6.7 6.7 0 1 0 -13.4 0zM1065.1 505.8a6.7 6.7 0 1 0 13.4 0a6.7 6.7 0 1 0 -13.4 0zM1050.7 528.8a6.7 6.7 0 1 0 13.4 0a6.7 6.7 0 1 0 -13.4 0zM1071.6 523.8a6.7 6.7 0 1 0 13.4 0a6.7 6.7 0 1 0 -13.4 0zM1085.3 529.5a6.7 6.7 0 1 0 13.4 0a6.7 6.7 0 1 0 -13.4 0zM1073 539.6a6.7 6.7 0 1 0 13.4 0a6.7 6.7 0 1 0 -13.4 0zM1026.2 545.4a6.7 6.7 0 1 0 13.4 0a6.7 6.7 0 1 0 -13.4 0zM1031.9 563.4a6.7 6.7 0 1 0 13.4 0a6.7 6.7 0 1 0 -13.4 0zM1037.7 559.1a6.7 6.7 0 1 0 13.4 0a6.7 6.7 0 1 0 -13.4 0zM1078.1 557.6a6.7 6.7 0 1 0 13.4 0a6.7 6.7 0 1 0 -13.4 0zM1085.3 557.6a6.7 6.7 0 1 0 13.4 0a6.7 6.7 0 1 0 -13.4 0zM980.3 579a6.7 6.7 0 1 0 13.4 0a6.7 6.7 0 1 0 -13.4 0zM989.8 575.1a6.7 6.7 0 1 0 13.4 0a6.7 6.7 0 1 0 -13.4 0zM981.5 580.1a6.7 6.7 0 1 0 13.4 0a6.7 6.7 0 1 0 -13.4 0zM975 577a6.7 6.7 0 1 0 13.4 0a6.7 6.7 0 1 0 -13.4 0zM983.9 588.5a6.7 6.7 0 1 0 13.4 0a6.7 6.7 0 1 0 -13.4 0zM973.2 568.4a6.7 6.7 0 1 0 13.4 0a6.7 6.7 0 1 0 -13.4 0zM973.1 589.2a6.7 6.7 0 1 0 13.4 0a6.7 6.7 0 1 0 -13.4 0zM985.2 557.7a6.7 6.7 0 1 0 13.4 0a6.7 6.7 0 1 0 -13.4 0zM990.9 595.6a6.7 6.7 0 1 0 13.4 0a6.7 6.7 0 1 0 -13.4 0zM984.4 581.2a6.7 6.7 0 1 0 13.4 0a6.7 6.7 0 1 0 -13.4 0zM974.4 556.6a6.7 6.7 0 1 0 13.4 0a6.7 6.7 0 1 0 -13.4 0zM981.9 558.4a6.7 6.7 0 1 0 13.4 0a6.7 6.7 0 1 0 -13.4 0zM975.1 565.9a6.7 6.7 0 1 0 13.4 0a6.7 6.7 0 1 0 -13.4 0zM971.9 575a6.7 6.7 0 1 0 13.4 0a6.7 6.7 0 1 0 -13.4 0zM980.1 590.5a6.7 6.7 0 1 0 13.4 0a6.7 6.7 0 1 0 -13.4 0zM981.7 582.3a6.7 6.7 0 1 0 13.4 0a6.7 6.7 0 1 0 -13.4 0zM981.3 583.2a6.7 6.7 0 1 0 13.4 0a6.7 6.7 0 1 0 -13.4 0zM980.4 567.4a6.7 6.7 0 1 0 13.4 0a6.7 6.7 0 1 0 -13.4 0zM991.3 596.8a6.7 6.7 0 1 0 13.4 0a6.7 6.7 0 1 0 -13.4 0zM988.1 585a6.7 6.7 0 1 0 13.4 0a6.7 6.7 0 1 0 -13.4 0zM977.6 565.4a6.7 6.7 0 1 0 13.4 0a6.7 6.7 0 1 0 -13.4 0zM977.1 558.9a6.7 6.7 0 1 0 13.4 0a6.7 6.7 0 1 0 -13.4 0zM986.6 572.4a6.7 6.7 0 1 0 13.4 0a6.7 6.7 0 1 0 -13.4 0zM988.2 571.8a6.7 6.7 0 1 0 13.4 0a6.7 6.7 0 1 0 -13.4 0zM990.5 590.7a6.7 6.7 0 1 0 13.4 0a6.7 6.7 0 1 0 -13.4 0zM971.3 564.6a6.7 6.7 0 1 0 13.4 0a6.7 6.7 0 1 0 -13.4 0zM989.5 575.3a6.7 6.7 0 1 0 13.4 0a6.7 6.7 0 1 0 -13.4 0zM990.9 572.3a6.7 6.7 0 1 0 13.4 0a6.7 6.7 0 1 0 -13.4 0zM972.8 581.8a6.7 6.7 0 1 0 13.4 0a6.7 6.7 0 1 0 -13.4 0zM986.9 567.1a6.7 6.7 0 1 0 13.4 0a6.7 6.7 0 1 0 -13.4 0zM973 569.6a6.7 6.7 0 1 0 13.4 0a6.7 6.7 0 1 0 -13.4 0zM990.6 587.1a6.7 6.7 0 1 0 13.4 0a6.7 6.7 0 1 0 -13.4 0zM973.7 566.1a6.7 6.7 0 1 0 13.4 0a6.7 6.7 0 1 0 -13.4 0zM973.3 558.5a6.7 6.7 0 1 0 13.4 0a6.7 6.7 0 1 0 -13.4 0zM987.2 563.3a6.7 6.7 0 1 0 13.4 0a6.7 6.7 0 1 0 -13.4 0zM982.5 574.3a6.7 6.7 0 1 0 13.4 0a6.7 6.7 0 1 0 -13.4 0zM975.1 586a6.7 6.7 0 1 0 13.4 0a6.7 6.7 0 1 0 -13.4 0zM973.9 582.4a6.7 6.7 0 1 0 13.4 0a6.7 6.7 0 1 0 -13.4 0zM973.6 573.3a6.7 6.7 0 1 0 13.4 0a6.7 6.7 0 1 0 -13.4 0zM975.6 567.1a6.7 6.7 0 1 0 13.4 0a6.7 6.7 0 1 0 -13.4 0zM990.7 588.9a6.7 6.7 0 1 0 13.4 0a6.7 6.7 0 1 0 -13.4 0zM977.4 592.3a6.7 6.7 0 1 0 13.4 0a6.7 6.7 0 1 0 -13.4 0zM975.5 572.2a6.7 6.7 0 1 0 13.4 0a6.7 6.7 0 1 0 -13.4 0zM988.4 582.3a6.7 6.7 0 1 0 13.4 0a6.7 6.7 0 1 0 -13.4 0zM973.3 596.6a6.7 6.7 0 1 0 13.4 0a6.7 6.7 0 1 0 -13.4 0zM994.7 582.9a6.7 6.7 0 1 0 13.4 0a6.7 6.7 0 1 0 -13.4 0zM1011.5 584.3a6.7 6.7 0 1 0 13.4 0a6.7 6.7 0 1 0 -13.4 0zM997.2 579.4a6.7 6.7 0 1 0 13.4 0a6.7 6.7 0 1 0 -13.4 0zM991 589.1a6.7 6.7 0 1 0 13.4 0a6.7 6.7 0 1 0 -13.4 0zM995.6 589.4a6.7 6.7 0 1 0 13.4 0a6.7 6.7 0 1 0 -13.4 0zM999.5 586.6a6.7 6.7 0 1 0 13.4 0a6.7 6.7 0 1 0 -13.4 0zM1017.1 587.2a6.7 6.7 0 1 0 13.4 0a6.7 6.7 0 1 0 -13.4 0zM1005.5 594.5a6.7 6.7 0 1 0 13.4 0a6.7 6.7 0 1 0 -13.4 0zM993.8 580.9a6.7 6.7 0 1 0 13.4 0a6.7 6.7 0 1 0 -13.4 0zM1015.6 593.5a6.7 6.7 0 1 0 13.4 0a6.7 6.7 0 1 0 -13.4 0zM995.8 581.6a6.7 6.7 0 1 0 13.4 0a6.7 6.7 0 1 0 -13.4 0zM1010.5 595.9a6.7 6.7 0 1 0 13.4 0a6.7 6.7 0 1 0 -13.4 0zM1045.3 579a6.7 6.7 0 1 0 13.4 0a6.7 6.7 0 1 0 -13.4 0zM1051.3 575a6.7 6.7 0 1 0 13.4 0a6.7 6.7 0 1 0 -13.4 0zM1057.3 577a6.7 6.7 0 1 0 13.4 0a6.7 6.7 0 1 0 -13.4 0zM1048.3 586a6.7 6.7 0 1 0 13.4 0a6.7 6.7 0 1 0 -13.4 0zM1055.3 585a6.7 6.7 0 1 0 13.4 0a6.7 6.7 0 1 0 -13.4 0zM1048.3 594a6.7 6.7 0 1 0 13.4 0a6.7 6.7 0 1 0 -13.4 0zM1052.3 597a6.7 6.7 0 1 0 13.4 0a6.7 6.7 0 1 0 -13.4 0zM1061.3 590a6.7 6.7 0 1 0 13.4 0a6.7 6.7 0 1 0 -13.4 0zM1067.8 594a6.7 6.7 0 1 0 13.4 0a6.7 6.7 0 1 0 -13.4 0zM1073.3 592a6.7 6.7 0 1 0 13.4 0a6.7 6.7 0 1 0 -13.4 0zM1077.3 596a6.7 6.7 0 1 0 13.4 0a6.7 6.7 0 1 0 -13.4 0zM1063.3 598a6.7 6.7 0 1 0 13.4 0a6.7 6.7 0 1 0 -13.4 0zM1040.3 590a6.7 6.7 0 1 0 13.4 0a6.7 6.7 0 1 0 -13.4 0zM1033.3 594a6.7 6.7 0 1 0 13.4 0a6.7 6.7 0 1 0 -13.4 0zM1026.3 592a6.7 6.7 0 1 0 13.4 0a6.7 6.7 0 1 0 -13.4 0zM1019.3 595a6.7 6.7 0 1 0 13.4 0a6.7 6.7 0 1 0 -13.4 0zM1023.3 585a6.7 6.7 0 1 0 13.4 0a6.7 6.7 0 1 0 -13.4 0zM1083.3 597a6.7 6.7 0 1 0 13.4 0a6.7 6.7 0 1 0 -13.4 0z" fill="#ff0000"/>
<path d="M1575.4 563.7h12.6M1581.7 557.2v13M1436.3 571.8h12.6M1442.6 565.3v13M1329.2 565.2h12.6M1335.5 558.7v13M1298.5 557.1h12.6M1304.8 550.6v13M1228 555.8h12.6M1234.3 549.3v13M1125.7 569.7h12.6M1132 563.2v13M1138.4 579.9h12.6M1144.7 573.4v13M1160 569.7h12.6M1166.3 563.2v13M1153.7 573.6h12.6M1160 567.1v13M1111.8 586.2h12.6M1118.1 579.7v13M1088.9 586.2h12.6M1095.2 579.7v13M1173.2 592.6h12.6M1179.5 586.1v13M1190.5 595.1h12.6M1196.8 588.6v13M1097.8 595.1h12.6M1104.1 588.6v13M1162 582.4h12.6M1168.3 575.9v13M1086.4 569.7h12.6M1092.7 563.2v13M1078.7 566h12.6M1085 559.5v13M983.2 547.5h12.6M989.5 541v13M1033.8 549.7h12.6M1040.1 543.2v13M1052.5 563.4h12.6M1058.8 556.9v13M1061.2 562h12.6M1067.5 555.5v13M1081.3 570.6h12.6M1087.6 564.1v13M1087.1 570.6h12.6M1093.4 564.1v13M985.1 593.6h12.6M991.4 587.1v13M977.4 590.2h12.6M983.7 583.7v13M984.5 581.1h12.6M990.8 574.6v13M980.7 573.1h12.6M987 566.6v13M980 582.6h12.6M986.3 576.1v13M972 583.9h12.6M978.3 577.4v13M986.6 594h12.6M992.9 587.5v13M982.4 573.3h12.6M988.7 566.8v13M982.5 581.4h12.6M988.8 574.9v13M977.7 592.2h12.6M984 585.7v13M972 588.5h12.6M978.3 582v13M971.2 582.3h12.6M977.5 575.8v13M978.4 566.7h12.6M984.7 560.2v13M981.9 577.9h12.6M988.2 571.4v13M980.5 595.7h12.6M986.8 589.2v13M974.8 557.5h12.6M981.1 551v13M975.5 585.5h12.6M981.8 579v13M973.9 564.1h12.6M980.2 557.6v13M985.2 584.7h12.6M991.5 578.2v13M977.8 594.5h12.6M984.1 588v13M975.9 585h12.6M982.2 578.5v13M973.9 575.1h12.6M980.2 568.6v13M983.6 595.4h12.6M989.9 588.9v13M984.8 573.1h12.6M991.1 566.6v13M980 570.3h12.6M986.3 563.8v13M972.9 577.9h12.6M979.2 571.4v13M984.1 592.6h12.6M990.4 586.1v13M982.1 596.9h12.6M988.4 590.4v13M975.1 564.1h12.6M981.4 557.6v13M977.9 568.6h12.6M984.2 562.1v13M974.1 574.4h12.6M980.4 567.9v13M980.7 577.7h12.6M987 571.2v13M975.7 592.2h12.6M982 585.7v13M986.4 576h12.6M992.7 569.5v13M971.9 558.3h12.6M978.2 551.8v13M984.7 558.7h12.6M991 552.2v13M982 581h12.6M988.3 574.5v13M975.6 590.2h12.6M981.9 583.7v13M971 562.7h12.6M977.3 556.2v13M978 558h12.6M984.3 551.5v13M984 567h12.6M990.3 560.5v13M973 559h12.6M979.3 552.5v13M980.8 575.8h12.6M987.1 569.3v13M980.8 584.5h12.6M987.1 578v13M983.6 597.3h12.6M989.9 590.8v13M981.7 565.4h12.6M988 558.9v13M978.3 564.5h12.6M984.6 558v13M970.9 576.8h12.6M977.2 570.3v13M982.1 564.5h12.6M988.4 558v13M975.1 571.5h12.6M981.4 565v13M981.9 578.9h12.6M988.2 572.4v13M980.5 588.8h12.6M986.8 582.3v13M977 590.3h12.6M983.3 583.8v13M985.2 560.7h12.6M991.5 554.2v13M985.6 587.3h12.6M991.9 580.8v13M972.8 576h12.6M979.1 569.5v13M980.7 595.2h12.6M987 588.7v13M976.7 580.9h12.6M983 574.4v13M984.8 590.5h12.6M991.1 584v13M985.8 576.5h12.6M992.1 570v13M981.1 565.6h12.6M987.4 559.1v13M982.3 591.4h12.6M988.6 584.9v13M981 587.1h12.6M987.3 580.6v13M974.1 594.8h12.6M980.4 588.3v13M986.4 598h12.6M992.7 591.5v13M979.3 590.2h12.6M985.6 583.7v13M975.8 595.2h12.6M982.1 588.7v13M984.4 571.6h12.6M990.7 565.1v13M972 575.5h12.6M978.3 569v13M979.5 589.3h12.6M985.8 582.8v13M978.5 558.2h12.6M984.8 551.7v13M983.6 559.7h12.6M989.9 553.2v13M983.5 564.3h12.6M989.8 557.8v13M976.1 590.1h12.6M982.4 583.6v13M972.9 563.2h12.6M979.2 556.7v13M979 587.4h12.6M985.3 580.9v13M984.1 586h12.6M990.4 579.5v13M985.8 577.7h12.6M992.1 571.2v13M985.9 560.6h12.6M992.2 554.1v13M974.2 579.1h12.6M980.5 572.6v13M975.3 587.6h12.6M981.6 581.1v13M980.9 579h12.6M987.2 572.5v13M984.2 580.5h12.6M990.5 574v13M975.7 573h12.6M982 566.5v13M984.2 594.8h12.6M990.5 588.3v13M974 592.7h12.6M980.3 586.2v13M986.2 579h12.6M992.5 572.5v13M979.9 565.4h12.6M986.2 558.9v13M979.3 578.1h12.6M985.6 571.6v13M980.4 558.2h12.6M986.7 551.7v13M986.2 578.7h12.6M992.5 572.2v13M977.1 590.6h12.6M983.4 584.1v13M979.7 577.6h12.6M986 571.1v13M981.8 559.8h12.6M988.1 553.3v13M979.3 574.4h12.6M985.6 567.9v13M986 595.8h12.6M992.3 589.3v13M975 576.9h12.6M981.3 570.4v13M972.7 575.2h12.6M979 568.7v13M983.8 594.8h12.6M990.1 588.3v13M978.3 570.3h12.6M984.6 563.8v13M992.3 589.8h12.6M998.6 583.3v13M1013.5 578.1h12.6M1019.8 571.6v13M1009.3 575.5h12.6M1015.6 569v13M992.3 580.5h12.6M998.6 574v13M1006.6 582.7h12.6M1012.9 576.2v13M997 589.9h12.6M1003.3 583.4v13M989.7 592.5h12.6M996 586v13M990.3 587.3h12.6M996.6 580.8v13M994 579.7h12.6M1000.3 573.2v13M1002.1 585.5h12.6M1008.4 579v13M997.6 584.9h12.6M1003.9 578.4v13M1002.1 578.8h12.6M1008.4 572.3v13M992.6 590.2h12.6M998.9 583.7v13M1005.2 587.7h12.6M1011.5 581.2v13M1011.4 589.7h12.6M1017.7 583.2v13M1019.7 577h12.6M1026 570.5v13M1038.7 588h12.6M1045 581.5v13M1053.7 590h12.6M1060 583.5v13M1065.7 595h12.6M1072 588.5v13M1023.7 596h12.6M1030 589.5v13M1005.7 590h12.6M1012 583.5v13M998.7 596h12.6M1005 589.5v13" stroke="#1a1a1a" stroke-width="1.4" fill="none"/>
</g>
<defs><clipPath id="cbl"><rect x="978" y="59" width="684" height="540"/></clipPath></defs><g clip-path="url(#cbl)">
<line x1="978" y1="598.7" x2="1662" y2="153.8" stroke="#5252e6" stroke-width="1.5"/>
<line x1="978" y1="597" x2="1662" y2="244.8" stroke="#ee5050" stroke-width="1.5"/>
<line x1="978" y1="599.4" x2="1662" y2="522.8" stroke="#333" stroke-width="1.5"/>
</g>
<text x="969" y="607.2" text-anchor="end" font-size="22">0</text>
<text x="978" y="629" text-anchor="middle" font-size="22">0</text>
<text x="969" y="530.1" text-anchor="end" font-size="22">0.5</text>
<text x="1075.7" y="629" text-anchor="middle" font-size="22">0.5</text>
<text x="969" y="452.9" text-anchor="end" font-size="22">1</text>
<text x="1173.4" y="629" text-anchor="middle" font-size="22">1</text>
<text x="969" y="375.8" text-anchor="end" font-size="22">1.5</text>
<text x="1271.1" y="629" text-anchor="middle" font-size="22">1.5</text>
<text x="969" y="298.6" text-anchor="end" font-size="22">2</text>
<text x="1368.9" y="629" text-anchor="middle" font-size="22">2</text>
<text x="969" y="221.5" text-anchor="end" font-size="22">2.5</text>
<text x="1466.6" y="629" text-anchor="middle" font-size="22">2.5</text>
<text x="969" y="144.3" text-anchor="end" font-size="22">3</text>
<text x="1564.3" y="629" text-anchor="middle" font-size="22">3</text>
<text x="969" y="67.2" text-anchor="end" font-size="22">3.5</text>
<text x="1662" y="629" text-anchor="middle" font-size="22">3.5</text>
<text x="978.7" y="56.5" font-size="25">×</text><text x="994.3" y="53.8" font-size="21">10</text><text x="1017.6" y="43.8" font-size="16.5">5</text>
<text x="1613.2" y="666.5" font-size="25">×</text><text x="1628.8" y="663.8" font-size="21">10</text><text x="1652.1" y="653.8" font-size="16.5">5</text>
<text x="1320" y="659.4" text-anchor="middle" font-size="23">AICC burned area (ha)</text>
<text transform="translate(928.8 329) rotate(-90)" text-anchor="middle" font-size="23">Simulated burned area (ha)</text>
<rect x="917" y="688.5" width="805" height="39" fill="#fff" stroke="#6a6a6a" stroke-width="1.6"/>
<rect x="957" y="702" width="13.5" height="13.5" fill="#0000ff"/>
<circle cx="1109.2" cy="708.5" r="8" fill="#ff0000"/>
<path d="M1409.8 708.7h15.8M1417.7 700.4v16.6" stroke="#2a2a2a" stroke-width="1.5"/>
<text x="1014" y="714.8" style="font-family:'Noto Sans CJK KR','Liberation Sans',sans-serif;font-weight:bold;font-size:20.5px;fill:#000" textLength="50.5" lengthAdjust="spacingAndGlyphs">ANN</text>
<text x="1140" y="716.8" style="font-family:'Noto Sans CJK KR','Liberation Sans',sans-serif;font-weight:bold;font-size:20.5px;fill:#000" textLength="239" lengthAdjust="spacingAndGlyphs">Two-step deep learning</text>
<text x="1450" y="714.8" style="font-family:'Noto Sans CJK KR','Liberation Sans',sans-serif;font-weight:bold;font-size:20.5px;fill:#000" textLength="50.5" lengthAdjust="spacingAndGlyphs">ANN</text>
<text x="1505" y="714.8" style="font-family:'Noto Sans CJK KR','Liberation Sans',sans-serif;font-weight:bold;font-size:20.5px;fill:#000" textLength="210" lengthAdjust="spacingAndGlyphs">without fire duration</text>
</svg></body></html>
